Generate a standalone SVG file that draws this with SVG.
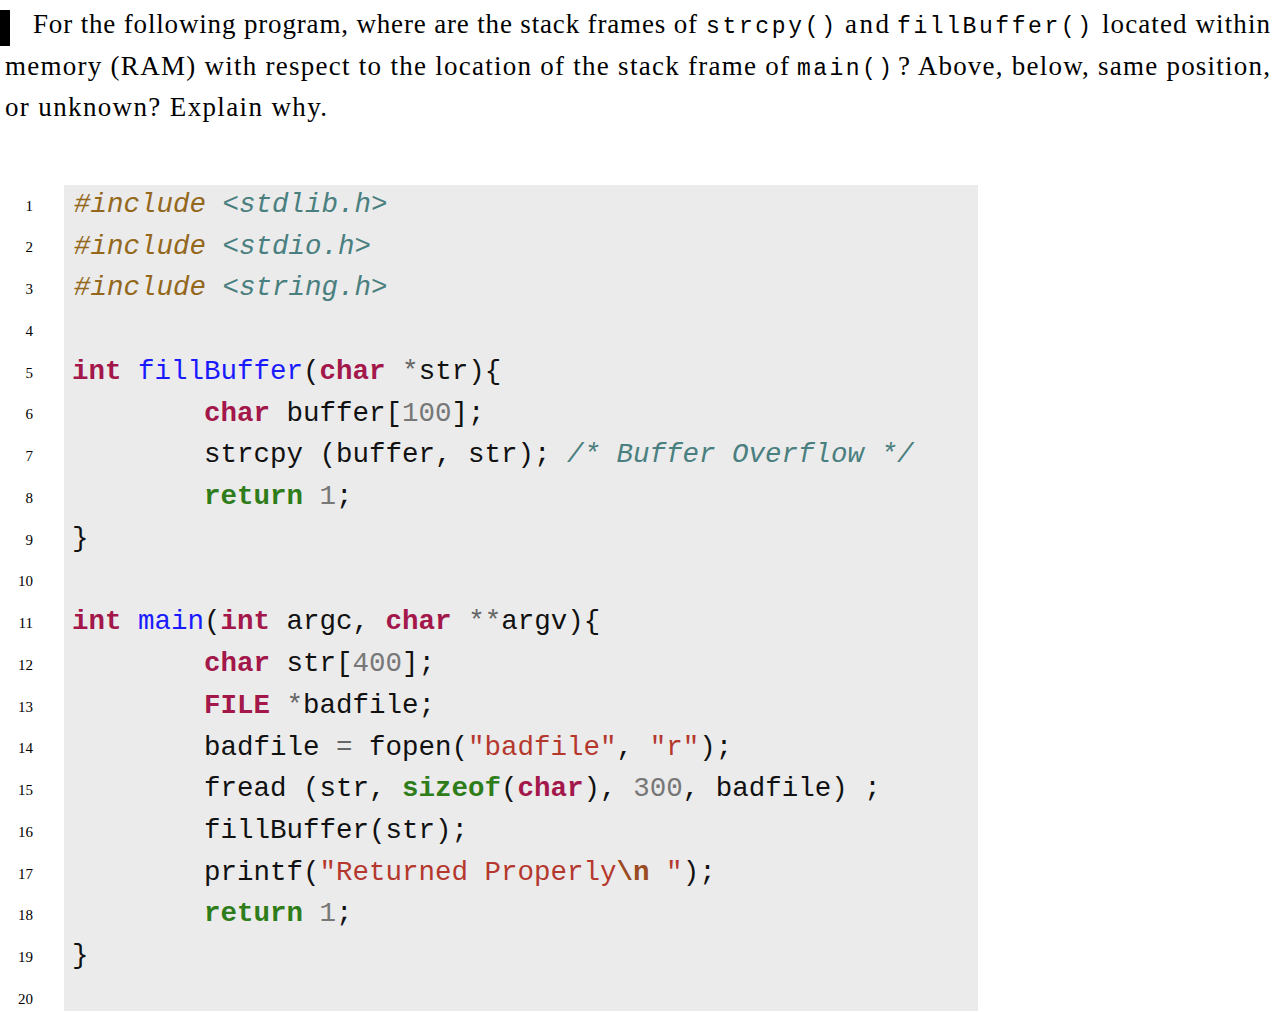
<svg xmlns="http://www.w3.org/2000/svg" width="1284" height="1012" viewBox="0 0 1284 1012">
<style>
.q{font-family:"Liberation Serif",serif;font-size:27px;fill:#000}
.qm{font-family:"Liberation Mono",monospace;font-size:23px;fill:#000}
.c{font-family:"Liberation Mono",monospace;font-size:27.5px;fill:#111}
.n{font-family:"Liberation Serif",serif;font-size:15px;fill:#000;text-anchor:end}
.k{fill:#a3174a;font-weight:bold}
.f{fill:#1a1aff}
.i{fill:#94681c;font-style:italic}
.h{fill:#4a7f7f;font-style:italic}
.num{fill:#777}
.s{fill:#b5382e}
.r{fill:#2e7d1a;font-weight:bold}
.e{fill:#9a4a20;font-weight:bold}
.cm{fill:#4a7f7f;font-style:italic}
.op{fill:#666}
</style>
<rect width="1284" height="1012" fill="#fff"/>
<rect x="0" y="10" width="10" height="36" fill="#000"/>
<g id="question">
<text class="q" y="33"><tspan x="33" textLength="664">For the following program, where are the stack frames of</tspan><tspan class="qm" x="706" textLength="129">strcpy()</tspan><tspan x="845" textLength="44">and</tspan><tspan class="qm" x="897" textLength="194">fillBuffer()</tspan><tspan x="1102" textLength="168">located within</tspan></text>
<text class="q" y="75"><tspan x="5" textLength="784">memory (RAM) with respect to the location of the stack frame of</tspan><tspan class="qm" x="797" textLength="95">main()</tspan><tspan x="898" textLength="372">? Above, below, same position,</tspan></text>
<text class="q" y="116"><tspan x="5" textLength="322">or unknown? Explain why.</tspan></text>
</g>
<rect x="64" y="185" width="914" height="826" fill="#ebebeb"/>
<g id="linenumbers">
<text class="n" x="33" y="211">1</text><text class="n" x="33" y="252">2</text><text class="n" x="33" y="294">3</text><text class="n" x="33" y="336">4</text><text class="n" x="33" y="378">5</text><text class="n" x="33" y="419">6</text><text class="n" x="33" y="461">7</text><text class="n" x="33" y="503">8</text><text class="n" x="33" y="545">9</text><text class="n" x="33" y="586">10</text><text class="n" x="33" y="628">11</text><text class="n" x="33" y="670">12</text><text class="n" x="33" y="712">13</text><text class="n" x="33" y="753">14</text><text class="n" x="33" y="795">15</text><text class="n" x="33" y="837">16</text><text class="n" x="33" y="879">17</text><text class="n" x="33" y="920">18</text><text class="n" x="33" y="962">19</text><text class="n" x="33" y="1004">20</text>
</g>
<g id="code" xml:space="preserve">
<text class="c" x="74" y="212"><tspan class="i">#include</tspan> <tspan class="h">&lt;stdlib.h&gt;</tspan></text>
<text class="c" x="74" y="254"><tspan class="i">#include</tspan> <tspan class="h">&lt;stdio.h&gt;</tspan></text>
<text class="c" x="74" y="295"><tspan class="i">#include</tspan> <tspan class="h">&lt;string.h&gt;</tspan></text>
<text class="c" x="72" y="379"><tspan class="k">int</tspan> <tspan class="f">fillBuffer</tspan>(<tspan class="k">char</tspan> <tspan class="op">*</tspan>str){</text>
<text class="c" x="204" y="421"><tspan class="k">char</tspan> buffer[<tspan class="num">100</tspan>];</text>
<text class="c" x="204" y="462">strcpy (buffer, str); <tspan class="cm">/* Buffer Overflow */</tspan></text>
<text class="c" x="204" y="504"><tspan class="r">return</tspan> <tspan class="num">1</tspan>;</text>
<text class="c" x="72" y="546">}</text>
<text class="c" x="72" y="629"><tspan class="k">int</tspan> <tspan class="f">main</tspan>(<tspan class="k">int</tspan> argc, <tspan class="k">char</tspan> <tspan class="op">**</tspan>argv){</text>
<text class="c" x="204" y="671"><tspan class="k">char</tspan> str[<tspan class="num">400</tspan>];</text>
<text class="c" x="204" y="713"><tspan class="k">FILE</tspan> <tspan class="op">*</tspan>badfile;</text>
<text class="c" x="204" y="755">badfile <tspan class="op">=</tspan> fopen(<tspan class="s">"badfile"</tspan>, <tspan class="s">"r"</tspan>);</text>
<text class="c" x="204" y="796">fread (str, <tspan class="r">sizeof</tspan>(<tspan class="k">char</tspan>), <tspan class="num">300</tspan>, badfile) ;</text>
<text class="c" x="204" y="838">fillBuffer(str);</text>
<text class="c" x="204" y="880">printf(<tspan class="s">"Returned Properly</tspan><tspan class="e">\n</tspan><tspan class="s"> "</tspan>);</text>
<text class="c" x="204" y="921"><tspan class="r">return</tspan> <tspan class="num">1</tspan>;</text>
<text class="c" x="72" y="963">}</text>
</g>
</svg>
